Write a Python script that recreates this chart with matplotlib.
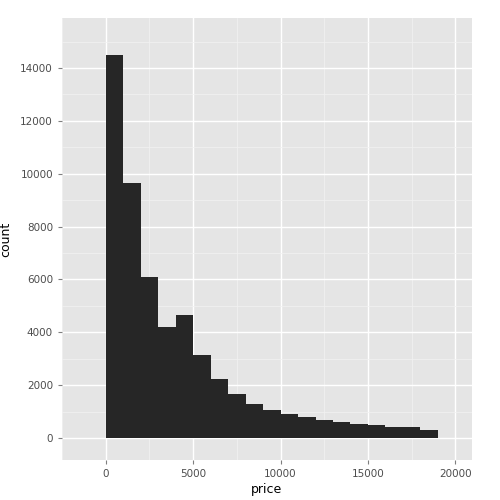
import matplotlib

matplotlib.use("Agg")
import matplotlib.pyplot as plt
import numpy as np

bin_left = list(range(0, 19000, 1000))
counts = [14500, 9650, 6100, 4200, 4650, 3150, 2250, 1650, 1300, 1050,
          900, 800, 700, 600, 520, 500, 400, 400, 290]
x_ticks = [0, 5000, 10000, 15000, 20000]
y_ticks = [0, 2000, 4000, 6000, 8000, 10000, 12000, 14000]

fig = plt.figure(figsize=(5, 5), dpi=100)
ax = fig.add_axes([0.124, 0.08, 0.82, 0.884])
ax.set_facecolor("#E5E5E5")
ax.bar(bin_left, counts, width=1000, align="edge", color="#262626", zorder=3)

ax.set_xlim(-2017, 20950)
ax.set_ylim(-832, 15892)
ax.set_xticks(x_ticks)
ax.set_yticks(y_ticks)
ax.set_xticks(np.arange(-2500, 21000, 5000), minor=True)
ax.set_yticks(np.arange(1000, 16000, 2000), minor=True)
ax.grid(which="major", color="white", linewidth=1.0, zorder=0)
ax.grid(which="minor", color="#F2F2F2", linewidth=0.5, zorder=0)
for s in ax.spines.values():
    s.set_visible(False)
ax.tick_params(which="major", colors="#7F7F7F", labelsize=7.5, length=3)
ax.tick_params(which="minor", length=0)
for lab in ax.get_xticklabels() + ax.get_yticklabels():
    lab.set_color("#4D4D4D")
ax.set_xlabel("price", fontsize=9, labelpad=3)
ax.set_ylabel("count", fontsize=9, labelpad=6)

fig.savefig("out.png", dpi=100)
